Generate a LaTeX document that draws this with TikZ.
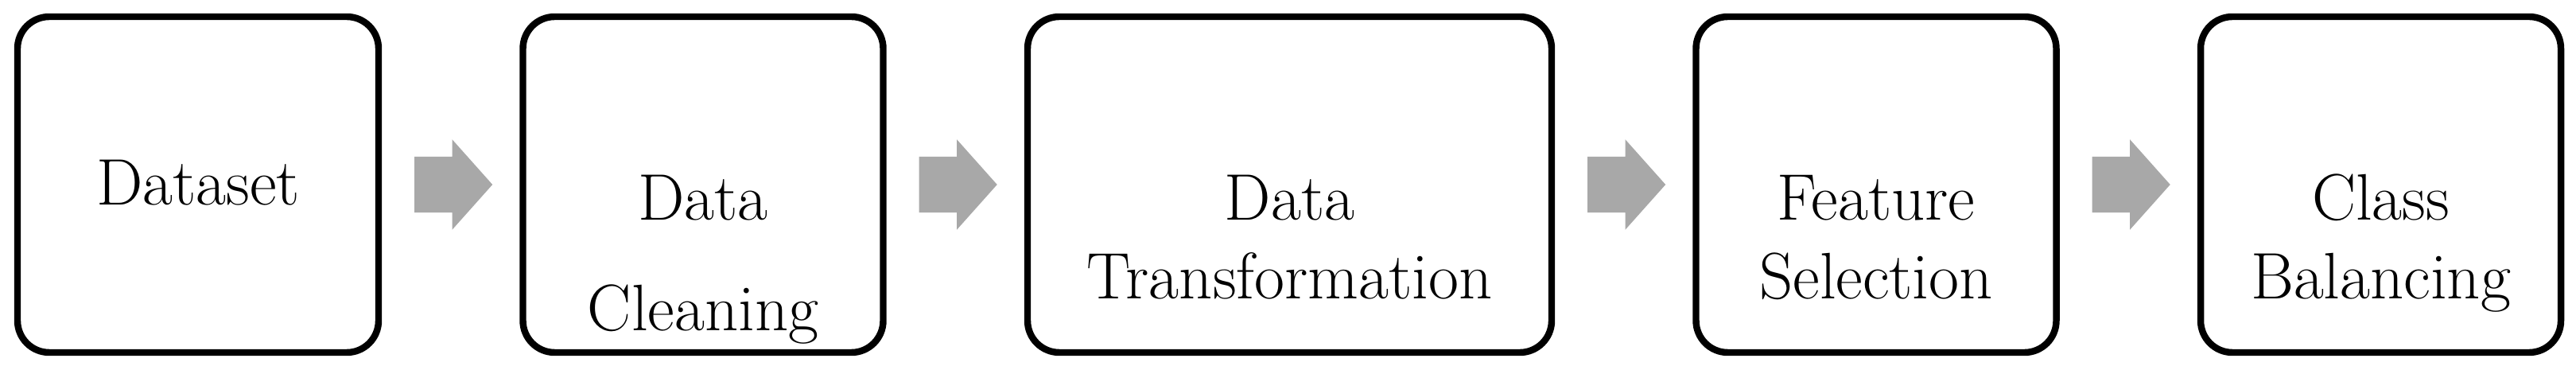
\documentclass[tikz,border=0pt]{standalone}
\usetikzlibrary{positioning,shapes.arrows}
\definecolor{arrowgrey}{RGB}{168,168,168}

\begin{document}
\begin{tikzpicture}[
    stage/.style={rectangle, rounded corners=0.4cm, draw, line width=2.4pt,
      minimum width=4.53cm, minimum height=4.22cm, inner sep=0pt, outer sep=0pt},
    flow/.style={single arrow, fill=arrowgrey, draw=none, right=0.445cm of #1, anchor=tail,
      inner xsep=0pt, inner ysep=0.345cm, minimum height=0.98cm,
      single arrow head extend=0.215cm, single arrow tip angle=96.5},
    txt/.style={anchor=base, align=center, inner sep=0pt, font=\fontsize{23.5}{28.45}\selectfont},
    node distance=1.815cm
  ]
  \useasboundingbox (0,0) rectangle (32.39,4.65);
  % the five stages
  \node[stage, minimum width=4.54cm] (dataset) at (2.49,2.33) {};
  \node[stage, right=of dataset] (cleaning) {};
  \node[stage, right=of cleaning, minimum width=6.59cm] (transform) {};
  \node[stage, right=of transform] (selection) {};
  \node[stage, right=of selection] (balancing) {};
  % grey block arrows between them
  \node[flow=dataset] (to-cleaning) {};
  \node[flow=cleaning] (to-transform) {};
  \node[flow=transform] (to-selection) {};
  \node[flow=selection] (to-balancing) {};
  % texts (base = last line)
  \node[txt] (dataset-text) at ([yshift=-0.26cm]dataset.center) {Dataset};
  \node[txt] (cleaning-text) at ([yshift=-1.84cm]cleaning.center) {Data\\[0.4cm]Cleaning};
  \node[txt] (transform-text) at ([yshift=-1.44cm]transform.center) {Data\\Transformation};
  \node[txt] (selection-text) at ([yshift=-1.44cm]selection.center) {Feature\\Selection};
  \node[txt] (balancing-text) at ([yshift=-1.44cm]balancing.center) {Class\\Balancing};
\end{tikzpicture}
\end{document}
